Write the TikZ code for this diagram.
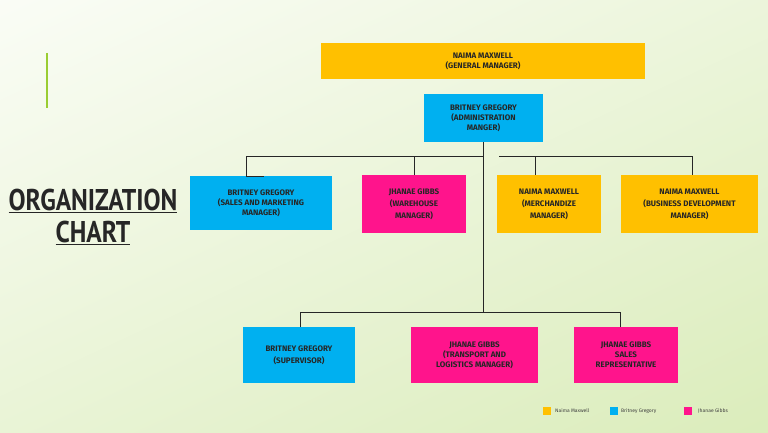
\documentclass[tikz,border=0pt]{standalone}
\usepackage{fontspec}
\setmainfont{Fira Sans}
\newfontfamily\titlefont{PT Sans}
\definecolor{cyel}{RGB}{255,192,0}
\definecolor{cblu}{RGB}{0,176,240}
\definecolor{cpnk}{RGB}{255,20,140}
\definecolor{cgrn}{RGB}{154,205,50}
\definecolor{cbg}{RGB}{214,234,178}
\begin{document}
\begin{tikzpicture}[x=1pt,y=-1pt,
  box/.style={draw=none,minimum width=#1,inner sep=1pt,align=center,font=\bfseries\fontsize{8}{10}\selectfont,text=black!85},
  yel/.style={fill=cyel},
  blu/.style={fill=cblu},
  pnk/.style={fill=cpnk},
  conn/.style={draw=black!85,line width=0.8pt},
  leg/.style={font=\fontsize{5}{6}\selectfont,text=black!75,anchor=west,inner sep=1pt}]
\useasboundingbox (0,0) rectangle (768,433);
\shade[shading=axis,top color=white,bottom color=cbg,shading angle=25] (-200,-200) rectangle (968,633);
\draw[cgrn,line width=1.2pt] (47,53) -- (47,108);
\node[font=\titlefont\bfseries\fontsize{30}{36}\selectfont,text=black!85,align=center,xscale=0.85] (title) at (93,217) {\underline{ORGANIZATION}\\[-4pt]\underline{CHART}};
% boxes
\node[box=324pt,minimum height=36pt,yel] (gm) at (483,61) {NAIMA MAXWELL\\(GENERAL MANAGER)};
\node[box=119pt,minimum height=48pt,blu] (adm) at (483.5,118) {BRITNEY GREGORY\\(ADMINISTRATION\\MANGER)};
\node[box=142pt,minimum height=54pt,blu] (sm) at (261,203) {BRITNEY GREGORY\\(SALES AND MARKETING\\MANAGER)};
\node[box=104pt,minimum height=58pt,pnk] (wh) at (414,204) {JHANAE GIBBS\\[2pt](WAREHOUSE\\[2pt]MANAGER)};
\node[box=104pt,minimum height=58pt,yel] (mm) at (549,204) {NAIMA MAXWELL\\[2pt](MERCHANDIZE\\[2pt]MANAGER)};
\node[box=137pt,minimum height=58pt,yel] (bd) at (689.5,204) {NAIMA MAXWELL\\[2pt](BUSINESS DEVELOPMENT\\[2pt]MANAGER)};
\node[box=112pt,minimum height=56pt,blu] (sup) at (299,355) {BRITNEY GREGORY\\[2pt](SUPERVISOR)};
\node[box=127pt,minimum height=56pt,pnk] (tl) at (474.5,355) {JHANAE GIBBS\\(TRANSPORT AND\\LOGISTICS MANAGER)};
\node[box=104pt,minimum height=56pt,pnk] (sr) at (626,355) {JHANAE GIBBS\\SALES\\REPRESENTATIVE};
% connectors
\coordinate (h1) at (483,156);
\coordinate (h2) at (483,312);
\draw[conn] (adm.south -| h1) -- (h2);
\draw[conn] (h1) -- (246,156) -- (sm.north -| 246,0);
\draw[conn] (246,176) -- (264,176);
\draw[conn] (414,156) -- (wh.north);
\draw[conn] (499,156) -- (692,156);
\draw[conn] (535,156) -- (mm.north -| 535,0);
\draw[conn] (692,156) -- (bd.north -| 692,0);
\draw[conn] (300,312) -- (620,312);
\draw[conn] (300,312) -- (sup.north -| 300,0);
\draw[conn] (620,312) -- (sr.north -| 620,0);
% legend
\node[yel,minimum size=8pt,inner sep=0pt] (l1) at (547,411) {};
\node[leg] at (554,411) {Naima Maxwell};
\node[blu,minimum size=8pt,inner sep=0pt] (l2) at (614,411) {};
\node[leg] at (620,411) {Britney Gregory};
\node[pnk,minimum size=8pt,inner sep=0pt] (l3) at (688,411) {};
\node[leg] at (697,411) {Jhanae Gibbs};
\end{tikzpicture}
\end{document}
